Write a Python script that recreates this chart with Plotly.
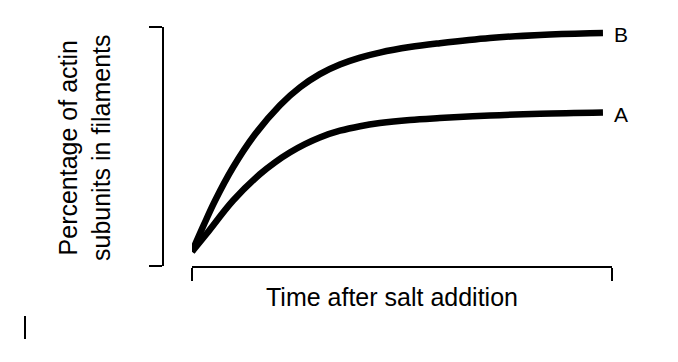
import plotly.graph_objects as go

# Time after salt addition (arbitrary units)
time_b = [0, 0.29, 0.56, 1.00, 1.53, 2.14, 2.63, 3.11, 3.60, 4.09, 4.57, 5.30, 6.03, 7.25, 8.47, 9.68, 10]
pct_b = [0, 11.3, 21.3, 35.3, 49.0, 61.3, 68.8, 74.3, 78.3, 81.2, 83.3, 85.6, 87.2, 89.4, 90.7, 91.4, 91.5]

time_a = [0, 0.36, 1.00, 1.65, 2.02, 2.38, 2.75, 3.11, 3.60, 4.09, 4.57, 5.30, 6.03, 7.25, 8.47, 10]
pct_a = [0, 7.6, 21.4, 32.4, 37.4, 41.5, 45.0, 47.8, 50.6, 52.5, 53.8, 55.1, 55.9, 57.0, 57.7, 58.2]

x_title = "Time after salt addition"
y_title = "Percentage of actin<br>subunits in filaments"

x_range = [0, 10.22]
y_range = [-6, 94]

FONT = "Arial, Liberation Sans, sans-serif"

fig = go.Figure()
for t, p, name in [(time_b, pct_b, "B"), (time_a, pct_a, "A")]:
    fig.add_trace(go.Scatter(
        x=t, y=p, mode="lines", name=name,
        line=dict(color="black", width=6.5, shape="spline", smoothing=1.0),
        cliponaxis=False, showlegend=False, hoverinfo="skip",
    ))
    fig.add_annotation(
        x=t[-1], y=p[-1], text=name, showarrow=False,
        xanchor="left", yanchor="middle", xshift=9, yshift=-2,
        font=dict(family=FONT, size=21, color="black"),
    )

fig.add_annotation(
    xref="paper", yref="paper", x=(392 - 163) / 449, y=(362 - 297 - 96) / 239,
    text=x_title, showarrow=False, xanchor="center", yanchor="middle",
    font=dict(family=FONT, size=25, color="black"),
)
fig.add_annotation(
    xref="paper", yref="paper", x=(84 - 163) / 449, y=(266 - 148) / 239,
    text=y_title, showarrow=False, textangle=-90, xanchor="center", yanchor="middle",
    font=dict(family=FONT, size=25, color="black"),
)

# stray text-cursor mark from the original screenshot
fig.add_shape(type="line", xref="paper", yref="paper",
              x0=(25 - 163) / 449, x1=(25 - 163) / 449,
              y0=(266 - 316) / 239, y1=(266 - 339) / 239,
              line=dict(color="black", width=2))

fig.update_layout(
    width=678, height=362,
    margin=dict(l=163, r=66, t=27, b=96),
    paper_bgcolor="white", plot_bgcolor="white",
    xaxis=dict(domain=[(192 - 163) / 449, 1], range=x_range,
               showgrid=False, zeroline=False, showline=True, linecolor="black", linewidth=2,
               ticks="outside", tickvals=x_range, ticklen=13, tickwidth=2, tickcolor="black",
               showticklabels=False, fixedrange=True),
    yaxis=dict(anchor="free", position=0, range=y_range,
               showgrid=False, zeroline=False, showline=True, linecolor="black", linewidth=2,
               ticks="outside", tickvals=y_range, ticklen=13, tickwidth=2, tickcolor="black",
               showticklabels=False, fixedrange=True),
)

fig.write_html("out.html")
